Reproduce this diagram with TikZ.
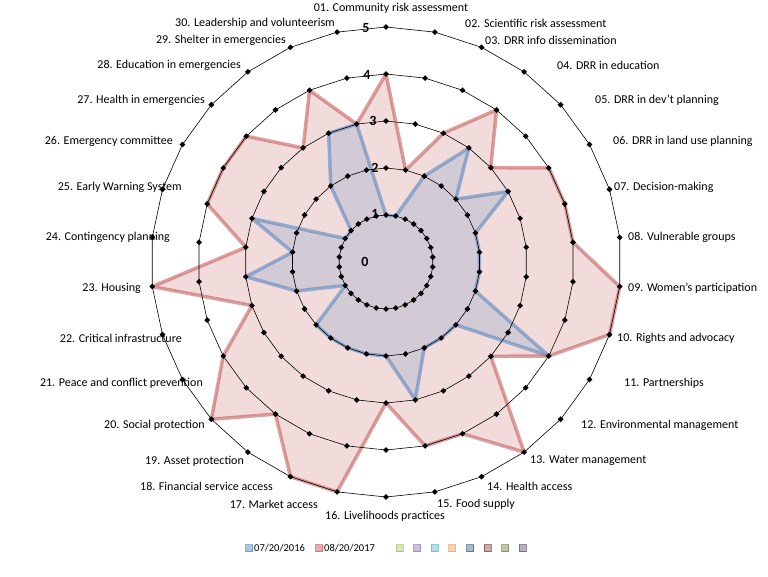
\documentclass[tikz,border=0pt]{standalone}
\usepackage{fontspec}
\setmainfont{Carlito}
\usetikzlibrary{shapes.geometric}
\definecolor{bl}{RGB}{79,129,189}
\definecolor{rd}{RGB}{192,80,77}
\definecolor{lg1}{RGB}{155,187,89}
\definecolor{lg2}{RGB}{128,100,162}
\definecolor{lg3}{RGB}{75,172,198}
\definecolor{lg4}{RGB}{247,150,70}
\definecolor{lg5}{RGB}{44,77,117}
\definecolor{lg6}{RGB}{119,44,42}
\definecolor{lg7}{RGB}{95,117,48}
\definecolor{lg8}{RGB}{77,59,98}
\begin{document}
\begin{tikzpicture}[x=1pt,y=-1pt,
  lab/.style={anchor=west,font=\fontsize{12}{13}\selectfont,inner sep=0},
  labr/.style={lab,anchor=east},
  labc/.style={lab,anchor=center},
  num/.style={font=\fontsize{14}{14}\selectfont\bfseries,inner sep=0},
  mk/.style={diamond,fill=black,inner sep=0,minimum size=6pt},
  ring/.style={black,line width=0.6pt},
  leg/.style={minimum size=7pt,inner sep=0,draw opacity=0.6,line width=1pt}]
\useasboundingbox (0,0) rectangle (768,576);
\def\cx{386}\def\cy{262}\def\u{47}
% data
\foreach \v [count=\i] in {1,1,2,3,2,3,2,2,2,2,4,2,2,2,3,2,2,2,2,2,1,2,3,2,3,1,1,2,3,3}
  \coordinate (b\i) at ({\cx+\v*\u*sin((\i-1)*12)},{\cy-\v*\u*cos((\i-1)*12)});
\foreach \v [count=\i] in {4,2,3,4,3,4,4,4,5,5,4,3,5,4,4,3,5,5,4,5,4,3,5,3,4,4,4,3,4,3}
  \coordinate (r\i) at ({\cx+\v*\u*sin((\i-1)*12)},{\cy-\v*\u*cos((\i-1)*12)});
\fill[rd,opacity=0.2] (r1) foreach \i in {2,...,30}{--(r\i)} -- cycle;
\fill[bl,opacity=0.2] (b1) foreach \i in {2,...,30}{--(b\i)} -- cycle;
\draw[bl,opacity=0.55,line width=3.5pt,line join=round] (b1) foreach \i in {2,...,30}{--(b\i)} -- cycle;
\draw[rd,opacity=0.55,line width=3.5pt,line join=round] (r1) foreach \i in {2,...,30}{--(r\i)} -- cycle;
% rings
\foreach \k in {1,...,5}{
  \foreach \i in {1,...,30}
    \coordinate (g\k-\i) at ({\cx+\k*\u*sin((\i-1)*12)},{\cy-\k*\u*cos((\i-1)*12)});
  \draw[ring] (g\k-1) foreach \i in {2,...,30}{--(g\k-\i)} -- cycle;
  \foreach \i in {1,...,30} \node[mk] (m\k-\i) at (g\k-\i) {};
}
% numbers
\node[num] (n0) at (365,262) {0};
\node[num] (n1) at (375,214) {1};
\node[num] (n2) at (375,168) {2};
\node[num] (n3) at (373,121) {3};
\node[num] (n4) at (367,75) {4};
\node[num] (n5) at (366,28) {5};
% labels
\node[labc] (l1) at (391,8) {01. Community risk assessment};
\node[lab] (l2) at (465,23) {02. Scientific risk assessment};
\node[lab] (l3) at (485,40) {03. DRR info dissemination};
\node[lab] (l4) at (557,65) {04. DRR in education};
\node[lab] (l5) at (595,100) {05. DRR in dev’t planning};
\node[lab] (l6) at (613,141) {06. DRR in land use planning};
\node[lab] (l7) at (614,187) {07. Decision-making};
\node[lab] (l8) at (628,237) {08. Vulnerable groups};
\node[lab] (l9) at (628,288) {09. Women’s participation};
\node[lab] (l10) at (617,338) {10. Rights and advocacy};
\node[lab] (l11) at (624,383) {11. Partnerships};
\node[lab] (l12) at (581,425) {12. Environmental management};
\node[lab] (l13) at (530,461) {13. Water management};
\node[lab] (l14) at (487,486) {14. Health access};
\node[lab] (l15) at (437,504) {15. Food supply};
\node[labc] (l16) at (385,516) {16. Livelihoods practices};
\node[labr] (l17) at (318,504) {17. Market access};
\node[labr] (l18) at (273,486) {18. Financial service access};
\node[labr] (l19) at (244,461) {19. Asset protection};
\node[labr] (l20) at (205,425) {20. Social protection};
\node[labr] (l21) at (203,383) {21. Peace and conflict prevention};
\node[labr] (l22) at (182,338) {22. Critical infrastructure};
\node[labr] (l23) at (141,288) {23. Housing};
\node[labr] (l24) at (170,237) {24. Contingency planning};
\node[labr] (l25) at (182,187) {25. Early Warning System};
\node[labr] (l26) at (173,141) {26. Emergency committee};
\node[labr] (l27) at (205,100) {27. Health in emergencies};
\node[labr] (l28) at (241,65) {28. Education in emergencies};
\node[labr] (l29) at (286,40) {29. Shelter in emergencies};
\node[labr] (l30) at (335,23) {30. Leadership and volunteerism};
% legend
\node[leg,fill=bl!45,draw=bl] (k1) at (249,548) {};
\node[lab,font=\fontsize{10.5}{12}\selectfont] (t1) at (254,548) {07/20/2016};
\node[leg,fill=rd!45,draw=rd] (k2) at (319,548) {};
\node[lab,font=\fontsize{10.5}{12}\selectfont] (t2) at (324,548) {08/20/2017};
\foreach \c [count=\j] in {lg1,lg2,lg3,lg4,lg5,lg6,lg7,lg8}
  \node[leg,fill=\c!40,draw=\c] (k\j x) at ({382+\j*17.6},548) {};
\end{tikzpicture}
\end{document}
